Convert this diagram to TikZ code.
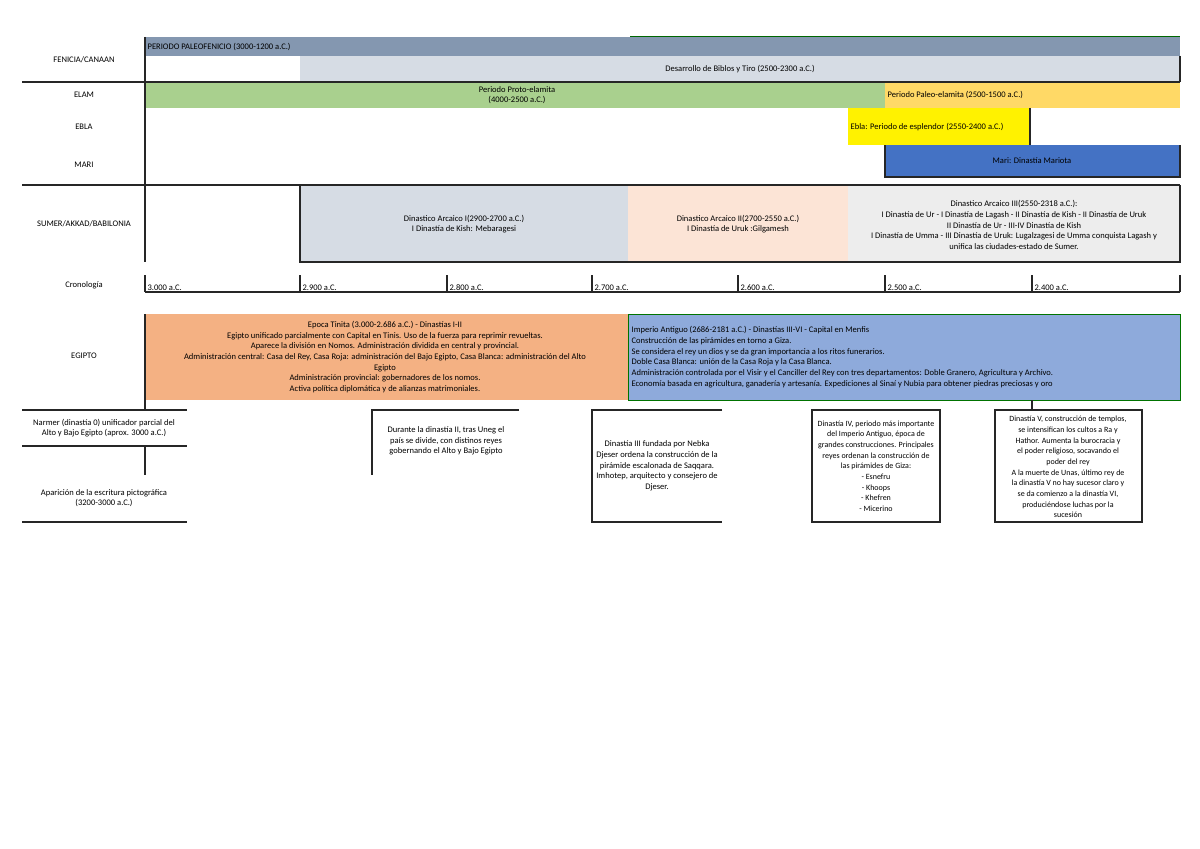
\documentclass[tikz,border=0pt]{standalone}
\usepackage{fontspec}
\setmainfont{Carlito}
\begin{document}
\begin{tikzpicture}[x=0.75pt,y=-0.75pt,
  t/.style={font=\fontsize{6.4}{8}\selectfont,align=center,inner sep=1pt},
  ts/.style={font=\fontsize{6}{8}\selectfont,align=center,inner sep=1pt},
  tl/.style={font=\fontsize{6.4}{8}\selectfont,align=left,inner sep=1pt,anchor=west},
  ln/.style={draw=black!85,line width=0.8pt}]
\definecolor{fen}{HTML}{8497B0}\definecolor{gr}{HTML}{D6DCE4}
\definecolor{grn}{HTML}{A9D08E}\definecolor{yo}{HTML}{FFD966}
\definecolor{bl}{HTML}{4472C4}\definecolor{pk}{HTML}{FCE4D6}
\definecolor{lg}{HTML}{EDEDED}\definecolor{or}{HTML}{F4B183}
\definecolor{lb}{HTML}{8EAADB}
\useasboundingbox (0,0) rectangle (1200,849);
\fill[white] (0,0) rectangle (1200,849);
% bars
\fill[fen] (145,37) rectangle (1180,56);
\draw[green!40!black,line width=0.6pt] (630,36) -- (1180,36);
\fill[gr] (300,56) rectangle (1180,82);
\fill[grn] (145,82) rectangle (885,108);
\fill[yo] (885,82) rectangle (1180,108);
\fill[yellow] (848,108) rectangle (1030,145);
\fill[bl] (885,145) rectangle (1180,177);
\fill[gr] (300,185) rectangle (628,262);
\fill[pk] (628,185) rectangle (848,262);
\fill[lg] (848,185) rectangle (1180,262);
\fill[or] (145,314) rectangle (628,400);
\filldraw[fill=lb,draw=green!45!black,line width=0.6pt] (628,314) rectangle (1180,400);
% lines
\draw[ln] (22,82) -- (1180,82);
\draw[ln] (145,37) -- (145,262);
\draw[ln] (1180,56) -- (1180,82);
\draw[ln] (1030,108) -- (1030,145);
\draw[ln] (885,145) -- (885,177) -- (1180,177) -- (1180,145);
\draw[ln] (22,185) -- (1180,185);
\draw[ln] (300,185) -- (300,262) -- (1180,262) -- (1180,185);
\draw[ln] (145,292) -- (1180,292);
\foreach \x in {145,300,447,592,738,885,1032,1180} \draw[ln] (\x,275) -- (\x,292);
\draw[ln] (145,314) -- (145,410);
\draw[ln] (22,410) -- (187,410);
\draw[ln] (22,446) -- (187,446);
\draw[ln] (145,446) -- (145,475);
\draw[ln] (22,522) -- (187,522);
\draw[ln] (519,410) -- (372,410) -- (372,475);
\draw[ln] (722,410) -- (592,410) -- (592,522) -- (722,522);
\draw[ln] (812,410) rectangle (940,522);
\draw[ln] (995,410) rectangle (1142,522);
\draw[ln] (1032,400) -- (1032,410);
% row labels
\node[t] (l1) at (84,60) {FENICIA/CANAAN};
\node[t] (l2) at (84,95) {ELAM};
\node[t] (l3) at (84,127) {EBLA};
\node[t] (l4) at (84,165) {MARI};
\node[t] (l5) at (84,224) {SUMER/AKKAD/BABILONIA};
\node[t] (l6) at (84,285) {Cronología};
\node[t] (l7) at (84,356) {EGIPTO};
% bar texts
\node[tl] (a1) at (146,47) {PERIODO PALEOFENICIO (3000-1200 a.C.)};
\node[t] (a2) at (740,69) {Desarrollo de Biblos y Tiro (2500-2300 a.C.)};
\node[t] (a3) at (517,95) {Periodo Proto-elamita\\(4000-2500 a.C.)};
\node[tl] (a4) at (886,95) {Periodo Paleo-elamita (2500-1500 a.C.)};
\node[tl] (a5) at (849,127) {Ebla: Periodo de esplendor (2550-2400 a.C.)};
\node[t] (a6) at (1032,161) {Mari: Dinastía Mariota};
\node[t] (s1) at (464,224) {Dinastico Arcaico I(2900-2700 a.C.)\\I Dinastía de Kish: Mebaragesi};
\node[t] (s2) at (738,224) {Dinastico Arcaico II(2700-2550 a.C.)\\I Dinastía de Uruk :Gilgamesh};
\node[t] (s3) at (1014,225) {Dinastico Arcaico III(2550-2318 a.C.):\\I Dinastía de Ur - I Dinastía de Lagash - II Dinastía de Kish - II Dinastía de Uruk\\II Dinastía de Ur - III-IV Dinastía de Kish\\I Dinastía de Umma - III Dinastía de Uruk: Lugalzagesi de Umma conquista Lagash y\\unifica las ciudades-estado de Sumer.};
\foreach \x/\lab in {145/3.000 a.C.,300/2.900 a.C.,447/2.800 a.C.,592/2.700 a.C.,738/2.600 a.C.,885/2.500 a.C.,1032/2.400 a.C.}
  \node[tl] at (\x+1,288) {\lab};
\node[t] (e1) at (385,357) {Epoca Tinita (3.000-2.686 a.C.) - Dinastías I-II\\Egipto unificado parcialmente con Capital en Tinis. Uso de la fuerza para reprimir revueltas.\\Aparece la división en Nomos. Administración dividida en central y provincial.\\Administración central: Casa del Rey, Casa Roja: administración del Bajo Egipto, Casa Blanca: administración del  Alto\\Egipto\\Administración provincial: gobernadores de los nomos.\\Activa política diplomática y de alianzas matrimoniales.};
\node[tl] (e2) at (630,357) {Imperio Antiguo (2686-2181 a.C.) - Dinastías III-VI - Capital en Menfis\\Construcción de las pirámides en torno a Giza.\\Se considera el rey un dios y se da gran importancia a los ritos funerarios.\\Doble Casa Blanca: unión de la Casa Roja y la Casa Blanca.\\Administración controlada por el Visir y el Canciller del Rey con tres departamentos: Doble Granero, Agricultura y Archivo.\\Economía basada en agricultura, ganadería y artesanía. Expediciones al Sinaí y Nubia para obtener piedras preciosas y oro};
\node[t] (b1) at (104,428) {Narmer (dinastía 0) unificador parcial del\\Alto y Bajo Egipto (aprox. 3000 a.C.)};
\node[t] (b2) at (104,498) {Aparición de la escritura pictográfica\\(3200-3000 a.C.)};
\node[t] (b3) at (446,441) {Durante la dinastía II, tras Uneg el\\país se divide, con distinos reyes\\gobernando el Alto y Bajo Egipto};
\node[t] (b4) at (657,466) {Dinastía III fundada por Nebka\\Djeser ordena la construcción de la\\pirámide escalonada de Saqqara.\\Imhotep, arquitecto y consejero de\\Djeser.};
\node[ts] (b5) at (876,466) {Dinastía IV, periodo más importante\\del Imperio Antiguo, época de\\grandes construcciones. Principales\\reyes  ordenan la construcción de\\las pirámides de Giza:\\- Esnefru\\- Khoops\\- Khefren\\- Micerino};
\node[ts] (b6) at (1068,467) {Dinastía V, construcción de templos,\\se intensifican los cultos a Ra y\\Hathor. Aumenta la burocracia y\\el poder religioso, socavando el\\poder del rey\\A la muerte de Unas, último rey de\\la dinastía V no hay sucesor claro y\\se da comienzo a la dinastía VI,\\produciéndose luchas por la\\sucesión};
\end{tikzpicture}
\end{document}
